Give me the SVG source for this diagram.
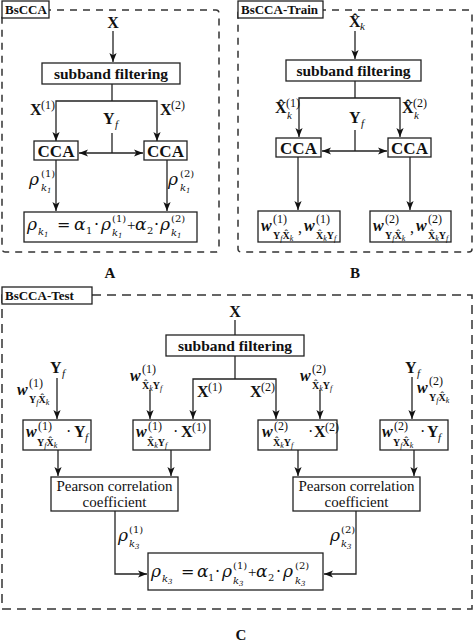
<svg xmlns="http://www.w3.org/2000/svg" width="474" height="644" viewBox="0 0 474 644">
<style>
text{font-family:"Liberation Serif","Times New Roman",serif;fill:#111}
.lb{font-weight:bold;font-size:16px}
.hd{font-weight:bold;font-size:13px}
.cca{font-weight:bold;font-size:17px;text-anchor:middle}
.sf{font-weight:bold;font-size:15.5px;text-anchor:middle}
.pc{font-size:15px;text-anchor:middle}
.sp{font-size:12px}
.sb{font-weight:bold;font-size:10px}
.si{font-style:italic;font-size:8px}
.fi{font-style:italic;font-size:11px}
.w{font-weight:bold;font-style:italic;font-size:16px}
.dt{font-size:16px}
.pl{font-size:15px}
.m{font-family:"DejaVu Serif",serif;font-style:italic;font-size:17px}
.mr{font-family:"DejaVu Serif",serif;font-size:16px}
.mn{font-family:"DejaVu Serif",serif;font-size:10px}
.mi{font-family:"DejaVu Serif",serif;font-style:italic;font-size:10px}
.cap{font-weight:bold;font-size:15px;text-anchor:middle}
.box{fill:#fff;stroke:#222;stroke-width:1.3}
.dash{fill:none;stroke:#333;stroke-width:1.5;stroke-dasharray:7 6}
.dashc{fill:none;stroke:#333;stroke-width:1.5;stroke-dasharray:9 6}
.ln{fill:none;stroke:#222;stroke-width:1.3}
.ar{fill:none;stroke:#222;stroke-width:1.3;marker-end:url(#ah)}
.da{fill:none;stroke:#222;stroke-width:1.3;marker-start:url(#ah);marker-end:url(#ah)}
</style>
<defs>
<marker id="ah" viewBox="0 0 10 8" refX="10" refY="4" markerWidth="9" markerHeight="8" markerUnits="userSpaceOnUse" orient="auto-start-reverse">
<path d="M0,0 L10,4 L0,8 L2.5,4 z" fill="#111"/>
</marker>
</defs>

<!-- Panel frames -->
<g id="panelA">
<rect class="dash" x="2" y="10" width="217" height="242" rx="3"/>
<rect class="box" x="2" y="1" width="47" height="17"/>
<text class="hd" x="5" y="14">BsCCA</text>
</g>
<g id="panelB">
<rect class="dash" x="238" y="10" width="234" height="242" rx="3"/>
<rect class="box" x="238" y="1" width="85" height="17"/>
<text class="hd" x="241" y="14">BsCCA-Train</text>
</g>
<g id="panelC">
<rect class="dashc" x="2" y="295" width="470" height="314"/>
<rect class="box" x="2" y="287" width="90" height="17"/>
<text class="hd" x="5" y="300" font-size="15px">BsCCA-Test</text>
</g>

<!-- connectors -->
<g id="connectors">
<!-- A -->
<line class="ar" x1="113" y1="31" x2="113" y2="62"/>
<polyline class="ln" points="112,84 112,101"/>
<polyline class="ar" points="112,101 56,101 56,141"/>
<polyline class="ar" points="112,101 157,101 157,141"/>
<line class="ln" x1="112" y1="133" x2="112" y2="153"/>
<line class="da" x1="79" y1="153" x2="143" y2="153"/>
<line class="ar" x1="56" y1="160" x2="56" y2="211"/>
<line class="ar" x1="167" y1="160" x2="167" y2="211"/>
<!-- B -->
<line class="ar" x1="355" y1="31" x2="355" y2="59"/>
<line class="ln" x1="355" y1="81" x2="355" y2="98"/>
<polyline class="ar" points="355,98 299,98 299,137"/>
<polyline class="ar" points="355,98 400,98 400,137"/>
<line class="ln" x1="355" y1="130" x2="355" y2="151"/>
<line class="da" x1="322" y1="151" x2="387" y2="151"/>
<line class="ar" x1="298" y1="157" x2="298" y2="210"/>
<line class="ar" x1="410" y1="157" x2="410" y2="210"/>
<!-- C -->
<line class="ln" x1="235" y1="320" x2="235" y2="335"/>
<line class="ln" x1="235" y1="356" x2="235" y2="379"/>
<polyline class="ar" points="235,379 193,379 193,419"/>
<polyline class="ar" points="235,379 276,379 276,419"/>
<line class="ar" x1="57" y1="378" x2="57" y2="419"/>
<line class="ar" x1="150" y1="390" x2="150" y2="419"/>
<line class="ar" x1="320" y1="390" x2="320" y2="419"/>
<line class="ar" x1="412" y1="377" x2="412" y2="419"/>
<line class="ar" x1="58" y1="450" x2="58" y2="476"/>
<line class="ar" x1="171" y1="450" x2="171" y2="476"/>
<line class="ar" x1="298" y1="450" x2="298" y2="476"/>
<line class="ar" x1="414" y1="450" x2="414" y2="476"/>
<polyline class="ar" points="115,511 115,574 147,574"/>
<polyline class="ar" points="356,511 356,574 324,574"/>
</g>

<!-- ===== Panel A nodes ===== -->
<g id="A-X"><text class="lb" x="113" y="28" text-anchor="middle">X</text></g>
<g id="A-subband">
<rect class="box" x="42" y="63" width="138" height="21"/>
<text class="sf" x="111" y="79">subband filtering</text>
</g>
<g id="A-X1"><text class="lb" x="30" y="115" font-size="15px">X</text><text class="sp" x="41" y="109">(1)</text></g>
<g id="A-X2"><text class="lb" x="160" y="115" font-size="15px">X</text><text class="sp" x="171" y="109">(2)</text></g>
<g id="A-Yf"><text class="lb" x="103" y="124" font-size="15px">Y</text><text class="fi" x="115" y="128">f</text></g>
<g id="A-CCA1"><rect class="box" x="34" y="141" width="44" height="19"/><text class="cca" x="56" y="157">CCA</text></g>
<g id="A-CCA2"><rect class="box" x="144" y="141" width="43" height="19"/><text class="cca" x="165.5" y="157">CCA</text></g>
<g id="A-rho1">
<text class="m" x="29" y="185">ρ</text><text class="mn" x="41" y="177">(1)</text><text class="mi" x="41" y="191">k<tspan font-size="7" dy="2">1</tspan></text>
</g>
<g id="A-rho2">
<text class="m" x="168" y="185">ρ</text><text class="mn" x="180" y="177">(2)</text><text class="mi" x="180" y="191">k<tspan font-size="7" dy="2">1</tspan></text>
</g>
<g id="A-sum">
<rect class="box" x="24" y="212" width="173" height="30"/>
<text class="m" x="27" y="230">ρ</text><text class="mi" x="38" y="235">k<tspan font-size="7" dy="2">1</tspan></text>
<text class="mr" x="57" y="230">=</text>
<text class="m" x="74" y="230">α</text><text class="mn" x="86" y="234">1</text>
<text class="mr" x="94" y="230">·</text>
<text class="m" x="101" y="230">ρ</text><text class="mn" x="112" y="222">(1)</text><text class="mi" x="112" y="236">k<tspan font-size="7" dy="2">1</tspan></text>
<text class="pl" x="127" y="230">+</text>
<text class="m" x="135" y="230">α</text><text class="mn" x="147" y="234">2</text>
<text class="mr" x="154" y="230">·</text>
<text class="m" x="160" y="230">ρ</text><text class="mn" x="171" y="222">(2)</text><text class="mi" x="171" y="236">k<tspan font-size="7" dy="2">1</tspan></text>
</g>
<g id="A-caption"><text class="cap" x="110" y="278">A</text></g>

<!-- ===== Panel B nodes ===== -->
<g id="B-Xk"><text class="lb" x="349" y="27" font-size="15px">X̂</text><text class="fi" x="360" y="30">k</text></g>
<g id="B-subband">
<rect class="box" x="286" y="60" width="135" height="21"/>
<text class="sf" x="353.5" y="76">subband filtering</text>
</g>
<g id="B-X1"><text class="lb" x="275" y="113" font-size="15px">X̂</text><text class="sp" x="286" y="107">(1)</text><text class="fi" x="287" y="119">k</text></g>
<g id="B-X2"><text class="lb" x="402" y="113" font-size="15px">X̂</text><text class="sp" x="413" y="107">(2)</text><text class="fi" x="414" y="119">k</text></g>
<g id="B-Yf"><text class="lb" x="349" y="123" font-size="15px">Y</text><text class="fi" x="361" y="127">f</text></g>
<g id="B-CCA1"><rect class="box" x="276" y="138" width="45" height="19"/><text class="cca" x="298.5" y="154">CCA</text></g>
<g id="B-CCA2"><rect class="box" x="388" y="138" width="43" height="19"/><text class="cca" x="409.5" y="154">CCA</text></g>
<g id="B-w1">
<rect class="box" x="258" y="211" width="82" height="31"/>
<text class="w" x="261" y="231">w</text><text class="sp" x="273" y="223">(1)</text>
<text x="273" y="239"><tspan class="sb">Y</tspan><tspan class="si" dy="1.5">f</tspan><tspan class="sb" dy="-1.5">X̂</tspan><tspan class="si" dy="1.5">k</tspan></text>
<text class="dt" x="298" y="233">,</text>
<text class="w" x="304" y="231">w</text><text class="sp" x="316" y="223">(1)</text>
<text x="316" y="239"><tspan class="sb">X̂</tspan><tspan class="si" dy="1.5">k</tspan><tspan class="sb" dy="-1.5">Y</tspan><tspan class="si" dy="1.5">f</tspan></text>
</g>
<g id="B-w2">
<rect class="box" x="370" y="211" width="81" height="31"/>
<text class="w" x="373" y="231">w</text><text class="sp" x="385" y="223">(2)</text>
<text x="385" y="239"><tspan class="sb">Y</tspan><tspan class="si" dy="1.5">f</tspan><tspan class="sb" dy="-1.5">X̂</tspan><tspan class="si" dy="1.5">k</tspan></text>
<text class="dt" x="410" y="233">,</text>
<text class="w" x="416" y="231">w</text><text class="sp" x="428" y="223">(2)</text>
<text x="428" y="239"><tspan class="sb">X̂</tspan><tspan class="si" dy="1.5">k</tspan><tspan class="sb" dy="-1.5">Y</tspan><tspan class="si" dy="1.5">f</tspan></text>
</g>
<g id="B-caption"><text class="cap" x="355" y="278">B</text></g>

<!-- ===== Panel C nodes ===== -->
<g id="C-X"><text class="lb" x="235" y="317" text-anchor="middle">X</text></g>
<g id="C-subband">
<rect class="box" x="166" y="335" width="138" height="21"/>
<text class="sf" x="235" y="351">subband filtering</text>
</g>
<g id="C-X1"><text class="lb" x="197" y="397" font-size="15px">X</text><text class="sp" x="208" y="391">(1)</text></g>
<g id="C-X2"><text class="lb" x="250" y="397" font-size="15px">X</text><text class="sp" x="261" y="391">(2)</text></g>
<g id="C-Yf1"><text class="lb" x="50" y="373" font-size="15px">Y</text><text class="fi" x="62" y="377">f</text></g>
<g id="C-Yf2"><text class="lb" x="405" y="373" font-size="15px">Y</text><text class="fi" x="417" y="377">f</text></g>
<g id="C-wl1">
<text class="w" x="17" y="395">w</text><text class="sp" x="29" y="387">(1)</text>
<text x="29" y="403"><tspan class="sb">Y</tspan><tspan class="si" dy="1.5">f</tspan><tspan class="sb" dy="-1.5">X̂</tspan><tspan class="si" dy="1.5">k</tspan></text>
</g>
<g id="C-wl2">
<text class="w" x="130" y="381">w</text><text class="sp" x="142" y="373">(1)</text>
<text x="142" y="389"><tspan class="sb">X̂</tspan><tspan class="si" dy="1.5">k</tspan><tspan class="sb" dy="-1.5">Y</tspan><tspan class="si" dy="1.5">f</tspan></text>
</g>
<g id="C-wl3">
<text class="w" x="300" y="381">w</text><text class="sp" x="312" y="373">(2)</text>
<text x="312" y="389"><tspan class="sb">X̂</tspan><tspan class="si" dy="1.5">k</tspan><tspan class="sb" dy="-1.5">Y</tspan><tspan class="si" dy="1.5">f</tspan></text>
</g>
<g id="C-wl4">
<text class="w" x="417" y="393">w</text><text class="sp" x="429" y="385">(2)</text>
<text x="429" y="401"><tspan class="sb">Y</tspan><tspan class="si" dy="1.5">f</tspan><tspan class="sb" dy="-1.5">X̂</tspan><tspan class="si" dy="1.5">k</tspan></text>
</g>
<g id="C-box1">
<rect class="box" x="23" y="420" width="68" height="30"/>
<text class="w" x="26" y="437">w</text><text class="sp" x="38" y="430">(1)</text>
<text x="37" y="446"><tspan class="sb">Y</tspan><tspan class="si" dy="1.5">f</tspan><tspan class="sb" dy="-1.5">X̂</tspan><tspan class="si" dy="1.5">k</tspan></text>
<text class="dt" x="66" y="437">·</text>
<text class="lb" x="74" y="437" font-size="15px">Y</text><text class="fi" x="85" y="441">f</text>
</g>
<g id="C-box2">
<rect class="box" x="133" y="420" width="77" height="30"/>
<text class="w" x="136" y="437">w</text><text class="sp" x="148" y="430">(1)</text>
<text x="147" y="446"><tspan class="sb">X̂</tspan><tspan class="si" dy="1.5">k</tspan><tspan class="sb" dy="-1.5">Y</tspan><tspan class="si" dy="1.5">f</tspan></text>
<text class="dt" x="173" y="437">·</text>
<text class="lb" x="181" y="437" font-size="15px">X</text><text class="sp" x="192" y="431">(1)</text>
</g>
<g id="C-box3">
<rect class="box" x="258" y="420" width="79" height="30"/>
<text class="w" x="262" y="437">w</text><text class="sp" x="274" y="430">(2)</text>
<text x="273" y="446"><tspan class="sb">X̂</tspan><tspan class="si" dy="1.5">k</tspan><tspan class="sb" dy="-1.5">Y</tspan><tspan class="si" dy="1.5">f</tspan></text>
<text class="dt" x="308" y="437">·</text>
<text class="lb" x="314" y="437" font-size="15px">X</text><text class="sp" x="325" y="431">(2)</text>
</g>
<g id="C-box4">
<rect class="box" x="380" y="420" width="68" height="30"/>
<text class="w" x="382" y="437">w</text><text class="sp" x="394" y="430">(2)</text>
<text x="393" y="446"><tspan class="sb">Y</tspan><tspan class="si" dy="1.5">f</tspan><tspan class="sb" dy="-1.5">X̂</tspan><tspan class="si" dy="1.5">k</tspan></text>
<text class="dt" x="420" y="437">·</text>
<text class="lb" x="427" y="437" font-size="15px">Y</text><text class="fi" x="438" y="441">f</text>
</g>
<g id="C-pearson1">
<rect class="box" x="51" y="477" width="127" height="34"/>
<text class="pc" x="114.5" y="491">Pearson correlation</text>
<text class="pc" x="114.5" y="507">coefficient</text>
</g>
<g id="C-pearson2">
<rect class="box" x="293" y="477" width="127" height="34"/>
<text class="pc" x="356.5" y="491">Pearson correlation</text>
<text class="pc" x="356.5" y="507">coefficient</text>
</g>
<g id="C-rho1">
<text class="m" x="118" y="541">ρ</text><text class="mn" x="129" y="533">(1)</text><text class="mi" x="129" y="547">k<tspan font-size="7" dy="2">3</tspan></text>
</g>
<g id="C-rho2">
<text class="m" x="330" y="541">ρ</text><text class="mn" x="341" y="533">(2)</text><text class="mi" x="341" y="547">k<tspan font-size="7" dy="2">3</tspan></text>
</g>
<g id="C-sum">
<rect class="box" x="148" y="553" width="175" height="37"/>
<text class="m" x="151" y="577">ρ</text><text class="mi" x="162" y="582">k<tspan font-size="7" dy="2">3</tspan></text>
<text class="mr" x="181" y="577">=</text>
<text class="m" x="197" y="577">α</text><text class="mn" x="208" y="581">1</text>
<text class="mr" x="215" y="577">·</text>
<text class="m" x="222" y="577">ρ</text><text class="mn" x="233" y="569">(1)</text><text class="mi" x="233" y="584">k<tspan font-size="7" dy="2">3</tspan></text>
<text class="pl" x="248" y="577">+</text>
<text class="m" x="256" y="577">α</text><text class="mn" x="268" y="581">2</text>
<text class="mr" x="276" y="577">·</text>
<text class="m" x="283" y="577">ρ</text><text class="mn" x="295" y="569">(2)</text><text class="mi" x="295" y="584">k<tspan font-size="7" dy="2">3</tspan></text>
</g>
<g id="C-caption"><text class="cap" x="241" y="640">C</text></g>
</svg>
